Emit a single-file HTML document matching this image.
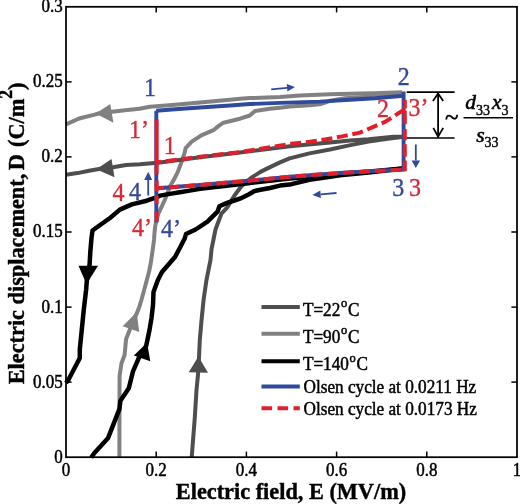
<!DOCTYPE html>
<html><head><meta charset="utf-8"><title>Electric displacement vs electric field</title>
<style>
html,body{margin:0;padding:0;background:#fff;width:520px;height:504px;overflow:hidden}
svg{display:block}
text{font-family:"Liberation Serif",serif}
.tk{font-size:17px;fill:#000;stroke:#000;stroke-width:0.45}
.axl{font-size:22.3px;font-weight:bold;fill:#000;stroke:#000;stroke-width:0.4}
.lg{font-size:17.2px;fill:#000;stroke:#000;stroke-width:0.45}
.pl{font-size:24px;stroke-width:0.35}
.fm{font-size:25px;fill:#000;stroke:#000;stroke-width:0.6}
.fi{font-size:21.5px;font-style:italic;fill:#000;stroke:#000;stroke-width:0.55}
.sb{font-size:14px;font-style:normal;stroke-width:0.4}
</style></head>
<body>
<svg width="520" height="504" viewBox="0 0 520 504">
<rect width="520" height="504" fill="#fff"/>
<polyline points="119.4,457.5 119.5,400.0 119.6,376.0 121.5,363.3 124.6,355.0 126.1,338.9 128.9,331.9 133.0,321.0 137.2,312.5 139.3,306.9 141.4,300.0 145.3,285.8 149.3,270.5 150.8,263.0 152.8,249.0 154.0,240.0 154.5,233.0 155.3,225.4 158.2,214.0 161.2,207.6 164.0,201.7 166.9,194.7 169.8,186.8 173.8,179.8 177.8,171.9 181.7,161.5 184.6,152.9 185.6,148.1 191.7,141.7 201.3,135.4 214.0,129.8 218.7,125.9 223.5,122.7 240.0,118.7 249.8,115.5 255.0,111.0 269.7,108.8 280.0,107.7 290.0,106.5 309.4,105.3 320.0,104.3 330.0,100.8 345.0,98.2 360.0,97.3 380.0,96.1 402.0,94.3" fill="none" stroke="#818181" stroke-width="4.0" stroke-linejoin="round" stroke-linecap="butt" />
<polyline points="402.0,92.3 375.0,93.2 360.0,93.5 330.0,94.2 300.0,95.6 280.0,97.0 250.0,98.1 240.0,98.8 230.0,99.8 200.0,102.5 175.0,104.8 150.0,106.7 139.4,108.8 125.0,110.2 112.0,111.7 98.3,113.5 94.8,114.6 81.0,118.0 77.5,119.2 66.0,124.4" fill="none" stroke="#818181" stroke-width="4.0" stroke-linejoin="round" stroke-linecap="butt" />
<polyline points="191.7,457.5 194.8,417.5 196.5,390.0 197.9,375.8 198.8,362.0 199.8,340.0 201.6,319.5 203.6,299.7 206.5,279.8 210.5,260.0 211.5,249.4 215.5,229.5 221.4,213.7 227.1,207.6 234.3,195.7 241.4,186.2 251.0,177.9 260.5,171.9 270.0,167.1 280.0,162.4 289.6,158.4 309.4,153.4 330.0,149.5 349.2,145.4 368.5,141.5 387.7,138.7 404.0,136.7" fill="none" stroke="#4e4e4e" stroke-width="4.0" stroke-linejoin="round" stroke-linecap="butt" />
<polyline points="404.0,136.7 393.5,136.7 368.5,139.3 350.0,140.5 330.0,142.5 290.0,146.2 240.0,152.4 200.0,157.2 160.0,162.4 140.0,164.2 126.0,165.0 113.0,167.3 98.9,169.0 89.1,170.8 77.5,173.1 66.0,174.8" fill="none" stroke="#4e4e4e" stroke-width="4.0" stroke-linejoin="round" stroke-linecap="butt" />
<polyline points="91.2,457.5 94.4,453.0 107.9,438.3 119.4,409.2 120.4,400.8 128.8,388.3 132.9,371.7 138.6,358.3 146.2,345.8 149.5,330.0 151.5,318.0 153.0,305.0 153.5,292.0 157.9,280.0 162.0,272.0 169.8,263.0 175.0,257.0 179.8,248.0 184.7,238.5 186.0,234.0 195.6,229.5 207.5,221.6 217.5,211.7 219.4,206.3 227.1,202.9 234.3,200.5 241.4,198.1 248.6,194.5 254.5,191.0 260.5,189.8 270.0,188.0 280.0,185.6 289.6,184.6 309.4,179.7 323.3,177.7 340.0,175.2 368.5,172.5 403.0,168.5" fill="none" stroke="#000000" stroke-width="4.5" stroke-linejoin="round" stroke-linecap="butt" />
<polyline points="403.0,168.5 370.0,171.5 340.0,174.0 290.0,178.5 250.0,182.9 220.0,186.5 200.0,188.8 189.7,190.6 179.8,192.3 169.8,193.9 159.9,195.6 155.6,197.6 146.7,200.7 131.8,204.4 119.9,209.6 110.0,218.0 98.0,226.5 92.5,230.5 91.5,238.0 90.3,252.0 89.6,264.4 86.8,281.1 86.1,290.0 83.8,309.6 81.8,329.4 79.8,349.3 79.8,358.0 68.3,380.0 66.0,383.0" fill="none" stroke="#000000" stroke-width="4.5" stroke-linejoin="round" stroke-linecap="butt" />
<polygon points="95.6,113.5 110.3,104.1 113.4,122.8" fill="#818181"/>
<polygon points="96.2,169.2 111.5,159.1 114.5,177.2" fill="#4e4e4e"/>
<polygon points="86.5,284.3 78.5,265.8 98.0,265.8" fill="#000000"/>
<polygon points="136.7,311.9 122.7,326.2 139.2,332.1" fill="#818181"/>
<polygon points="147.1,342.7 133.8,355.4 150.3,361.3" fill="#000000"/>
<polygon points="198.4,356.6 188.7,372.2 208.0,372.7" fill="#4e4e4e"/>
<polyline points="156.2,110.8 175.0,109.2 200.0,107.5 230.0,105.5 250.0,104.0 280.0,102.9 320.0,101.6 350.0,99.8 375.0,98.3 403.6,95.8" fill="none" stroke="#2f4a9c" stroke-width="3.9" stroke-linejoin="round" stroke-linecap="butt" />
<polyline points="403.6,91.5 403.6,170.0" fill="none" stroke="#2f4a9c" stroke-width="3.9" stroke-linejoin="round" stroke-linecap="butt" />
<polyline points="404.5,169.5 370.0,171.3 340.0,173.0 290.0,176.7 240.0,181.5 200.0,185.0 157.5,188.3" fill="none" stroke="#2f4a9c" stroke-width="3.9" stroke-linejoin="round" stroke-linecap="butt" />
<polyline points="156.3,110.8 156.3,222.5" fill="none" stroke="#2f4a9c" stroke-width="3.9" stroke-linejoin="round" stroke-linecap="butt" />
<polyline points="157.0,162.4 200.0,156.8 240.0,152.1 291.0,143.8 310.0,141.8 326.0,139.3 342.0,136.4 360.0,132.6 371.6,127.6 385.5,121.7 395.0,115.5 404.5,109.5" fill="none" stroke="#e11f2b" stroke-width="4.0" stroke-linejoin="round" stroke-linecap="butt" stroke-dasharray="11,4.7" stroke-dashoffset="6.7"/>
<polyline points="404.8,99.8 404.8,108.5" fill="none" stroke="#e11f2b" stroke-width="4.0" stroke-linejoin="round" stroke-linecap="butt" />
<polyline points="404.8,110.5 404.8,124.2" fill="none" stroke="#e11f2b" stroke-width="4.0" stroke-linejoin="round" stroke-linecap="butt" />
<polyline points="404.8,129.1 404.8,140.2" fill="none" stroke="#e11f2b" stroke-width="4.0" stroke-linejoin="round" stroke-linecap="butt" />
<polyline points="404.8,144.2 404.8,156.7" fill="none" stroke="#e11f2b" stroke-width="4.0" stroke-linejoin="round" stroke-linecap="butt" />
<polyline points="404.8,160.5 404.8,171.3" fill="none" stroke="#e11f2b" stroke-width="4.0" stroke-linejoin="round" stroke-linecap="butt" />
<polyline points="157.5,188.3 200.0,185.0 240.0,181.5 290.0,176.7 340.0,173.0 370.0,171.3 404.5,169.5" fill="none" stroke="#e11f2b" stroke-width="4.0" stroke-linejoin="round" stroke-linecap="butt" stroke-dasharray="10.9,5" stroke-dashoffset="4.5"/>
<polyline points="156.6,119.4 156.6,174.5" fill="none" stroke="#e11f2b" stroke-width="4.0" stroke-linejoin="round" stroke-linecap="butt" />
<polyline points="156.6,180.5 156.6,191.2" fill="none" stroke="#e11f2b" stroke-width="4.0" stroke-linejoin="round" stroke-linecap="butt" />
<polyline points="156.6,196.0 156.6,204.3" fill="none" stroke="#e11f2b" stroke-width="4.0" stroke-linejoin="round" stroke-linecap="butt" />
<polyline points="156.6,211.4 156.6,222.0" fill="none" stroke="#e11f2b" stroke-width="4.0" stroke-linejoin="round" stroke-linecap="butt" />
<line x1="271.2" y1="89.4" x2="287.0" y2="87.9" stroke="#2f4a9c" stroke-width="1.8"/><polygon points="295.0,87.1 287.4,91.6 286.7,84.1" fill="#2f4a9c"/>
<line x1="336.5" y1="193" x2="320.6" y2="194.3" stroke="#2f4a9c" stroke-width="1.8"/><polygon points="312.3,194.9 320.3,190.4 320.9,198.1" fill="#2f4a9c"/>
<line x1="415.8" y1="144.5" x2="415.8" y2="160.6" stroke="#2f4a9c" stroke-width="1.8"/><polygon points="415.8,168.1 411.6,160.6 420.1,160.6" fill="#2f4a9c"/>
<line x1="148.2" y1="195.5" x2="148.2" y2="179.9" stroke="#2f4a9c" stroke-width="1.8"/><polygon points="148.2,171.7 152.2,179.9 144.2,179.9" fill="#2f4a9c"/>
<line x1="406.7" y1="92.1" x2="454.6" y2="92.1" stroke="#000" stroke-width="1.6"/>
<line x1="406.7" y1="138" x2="454.6" y2="138" stroke="#000" stroke-width="1.6"/>
<line x1="438.1" y1="93.5" x2="438.1" y2="137" stroke="#000" stroke-width="1.8"/>
<polyline points="432.9,101.1 438.1,93.6 443.2,101.1" fill="none" stroke="#000" stroke-width="1.8"/>
<polyline points="433.3,127.9 438.1,136.6 443.2,127.9" fill="none" stroke="#000" stroke-width="1.8"/>
<line x1="463.5" y1="117.8" x2="513" y2="117.8" stroke="#000" stroke-width="1.6"/>
<rect x="66" y="6.8" width="451" height="450.4" fill="none" stroke="#000" stroke-width="1.75"/>
<line x1="156.2" y1="457.2" x2="156.2" y2="451.59999999999997" stroke="#000" stroke-width="1.5"/>
<line x1="156.2" y1="6.8" x2="156.2" y2="12.399999999999999" stroke="#000" stroke-width="1.5"/>
<line x1="246.4" y1="457.2" x2="246.4" y2="451.59999999999997" stroke="#000" stroke-width="1.5"/>
<line x1="246.4" y1="6.8" x2="246.4" y2="12.399999999999999" stroke="#000" stroke-width="1.5"/>
<line x1="336.6" y1="457.2" x2="336.6" y2="451.59999999999997" stroke="#000" stroke-width="1.5"/>
<line x1="336.6" y1="6.8" x2="336.6" y2="12.399999999999999" stroke="#000" stroke-width="1.5"/>
<line x1="426.8" y1="457.2" x2="426.8" y2="451.59999999999997" stroke="#000" stroke-width="1.5"/>
<line x1="426.8" y1="6.8" x2="426.8" y2="12.399999999999999" stroke="#000" stroke-width="1.5"/>
<line x1="66" y1="382.1" x2="71.6" y2="382.1" stroke="#000" stroke-width="1.5"/>
<line x1="517" y1="382.1" x2="511.4" y2="382.1" stroke="#000" stroke-width="1.5"/>
<line x1="66" y1="307.1" x2="71.6" y2="307.1" stroke="#000" stroke-width="1.5"/>
<line x1="517" y1="307.1" x2="511.4" y2="307.1" stroke="#000" stroke-width="1.5"/>
<line x1="66" y1="232.0" x2="71.6" y2="232.0" stroke="#000" stroke-width="1.5"/>
<line x1="517" y1="232.0" x2="511.4" y2="232.0" stroke="#000" stroke-width="1.5"/>
<line x1="66" y1="156.9" x2="71.6" y2="156.9" stroke="#000" stroke-width="1.5"/>
<line x1="517" y1="156.9" x2="511.4" y2="156.9" stroke="#000" stroke-width="1.5"/>
<line x1="66" y1="81.9" x2="71.6" y2="81.9" stroke="#000" stroke-width="1.5"/>
<line x1="517" y1="81.9" x2="511.4" y2="81.9" stroke="#000" stroke-width="1.5"/>
<text transform="translate(66.0,475.8) scale(1.0,1.06)" class="tk" text-anchor="middle">0</text>
<text transform="translate(156.2,475.8) scale(1.0,1.06)" class="tk" text-anchor="middle">0.2</text>
<text transform="translate(246.4,475.8) scale(1.0,1.06)" class="tk" text-anchor="middle">0.4</text>
<text transform="translate(336.6,475.8) scale(1.0,1.06)" class="tk" text-anchor="middle">0.6</text>
<text transform="translate(426.8,475.8) scale(1.0,1.06)" class="tk" text-anchor="middle">0.8</text>
<text transform="translate(517.0,475.8) scale(1.0,1.06)" class="tk" text-anchor="middle">1</text>
<text transform="translate(62.8,462.6) scale(1.0,1.06)" class="tk" text-anchor="end">0</text>
<text transform="translate(62.8,387.5) scale(1.0,1.06)" class="tk" text-anchor="end">0.05</text>
<text transform="translate(62.8,312.5) scale(1.0,1.06)" class="tk" text-anchor="end">0.1</text>
<text transform="translate(62.8,237.4) scale(1.0,1.06)" class="tk" text-anchor="end">0.15</text>
<text transform="translate(62.8,162.3) scale(1.0,1.06)" class="tk" text-anchor="end">0.2</text>
<text transform="translate(62.8,87.3) scale(1.0,1.06)" class="tk" text-anchor="end">0.25</text>
<text transform="translate(62.8,12.2) scale(1.0,1.06)" class="tk" text-anchor="end">0.3</text>
<text transform="translate(291,499) scale(1.0,1.04)" class="axl" text-anchor="middle">Electric field, E (MV/m)</text>
<text transform="translate(24,233.4) rotate(-90) scale(1.0,1.04)" class="axl" text-anchor="middle">Electric displacement,<tspan dx="-2"> D</tspan><tspan dx="1.5"> (C/m</tspan><tspan dy="-11.2" font-size="17.5">2</tspan><tspan dy="11.2">)</tspan></text>
<line x1="261.5" y1="306.9" x2="299.8" y2="306.9" stroke="#4e4e4e" stroke-width="4"/>
<line x1="261.5" y1="333.7" x2="299.8" y2="333.7" stroke="#818181" stroke-width="4"/>
<line x1="261.5" y1="361.3" x2="299.8" y2="361.3" stroke="#000000" stroke-width="4"/>
<text transform="translate(302.9,315.6) scale(1.0,1.06)" class="lg">T=22<tspan dy="-8" dx="0.7" font-size="12.5">o</tspan><tspan dy="8" dx="0.7">C</tspan></text>
<text transform="translate(302.9,342.9) scale(1.0,1.06)" class="lg">T=90<tspan dy="-8" dx="0.7" font-size="12.5">o</tspan><tspan dy="8" dx="0.7">C</tspan></text>
<text transform="translate(302.9,370.4) scale(1.0,1.06)" class="lg">T=140<tspan dy="-8" dx="0.7" font-size="12.5">o</tspan><tspan dy="8" dx="0.7">C</tspan></text>
<line x1="261.5" y1="386.5" x2="299.8" y2="386.5" stroke="#2f4a9c" stroke-width="4"/>
<line x1="261.5" y1="408.2" x2="299.8" y2="408.2" stroke="#e11f2b" stroke-width="4" stroke-dasharray="10.5,5.5"/>
<text transform="translate(303.5,392.9) scale(1.0,1.06)" class="lg">Olsen cycle at 0.0211 Hz</text>
<text transform="translate(303.5,415) scale(1.0,1.06)" class="lg">Olsen cycle at 0.0173 Hz</text>
<text stroke="#33489a" transform="translate(144,96.3) scale(1.0,1.03)" class="pl" fill="#33489a">1</text>
<text stroke="#d42a38" transform="translate(129,137.8) scale(1.0,1.03)" class="pl" fill="#d42a38">1’</text>
<text stroke="#d42a38" transform="translate(163.7,153.6) scale(1.0,1.03)" class="pl" fill="#d42a38">1</text>
<text stroke="#33489a" transform="translate(397.8,85) scale(1.0,1.03)" class="pl" fill="#33489a">2</text>
<text stroke="#d42a38" transform="translate(377,117.3) scale(1.0,1.03)" class="pl" fill="#d42a38">2</text>
<text stroke="#d42a38" transform="translate(408.5,116.3) scale(1.0,1.03)" class="pl" fill="#d42a38">3’</text>
<text stroke="#33489a" transform="translate(392.3,196) scale(1.0,1.03)" class="pl" fill="#33489a">3</text>
<text stroke="#d42a38" transform="translate(409,196) scale(1.0,1.03)" class="pl" fill="#d42a38">3</text>
<text stroke="#d42a38" transform="translate(112.5,200.7) scale(1.0,1.03)" class="pl" fill="#d42a38">4</text>
<text stroke="#33489a" transform="translate(129,200.2) scale(1.0,1.03)" class="pl" fill="#33489a">4</text>
<text stroke="#d42a38" transform="translate(132,236.4) scale(1.0,1.03)" class="pl" fill="#d42a38">4’</text>
<text stroke="#33489a" transform="translate(161,236.9) scale(1.0,1.03)" class="pl" fill="#33489a">4’</text>
<text transform="translate(445,124.5) scale(1.0,1.0)" class="fm">~</text>
<text transform="translate(465.2,108.6) scale(1.0,1.0)" class="fi">d<tspan class="sb" dy="5.9">33</tspan><tspan dy="-5.9" dx="2">x</tspan><tspan class="sb" dy="5.9">3</tspan></text>
<text transform="translate(476.2,142.2) scale(1.0,1.0)" class="fi">s<tspan class="sb" dy="4.9">33</tspan></text>
</svg>
</body></html>
